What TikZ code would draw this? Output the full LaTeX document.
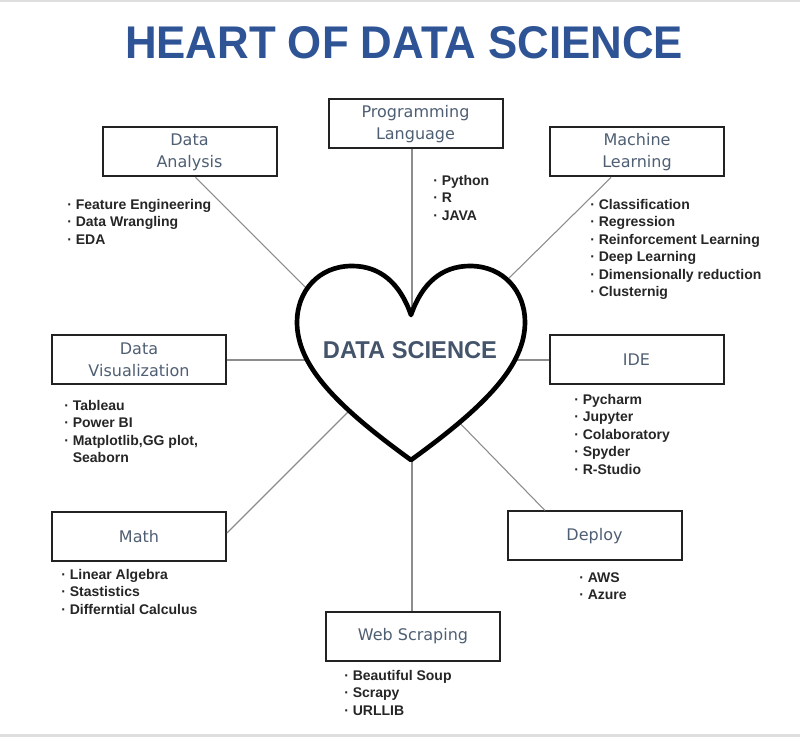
\documentclass[tikz,border=0pt]{standalone}
\usepackage{fontspec}
\usepackage{graphicx}
\setmainfont{Liberation Sans}
\newfontfamily\labfont{DejaVu Sans}
\usetikzlibrary{calc}
\definecolor{titleblue}{HTML}{2F5496}
\definecolor{labcol}{HTML}{4F5F73}
\definecolor{dscol}{HTML}{44546A}
\definecolor{itemcol}{HTML}{262626}
\definecolor{boxline}{HTML}{222222}
\definecolor{conn}{HTML}{8C8C8C}
\definecolor{edgegray}{HTML}{DEDEDE}
\tikzset{
  topicbox/.style={draw=boxline, line width=1.5pt, fill=white, minimum width=130.5pt,
    minimum height=36.75pt, inner sep=0pt, align=center, text=labcol,
    font=\labfont\fontsize{12}{16.5}\selectfont},
  itemlist/.style={anchor=north west, inner sep=0pt, align=left, text=itemcol,
    font=\fontsize{10.5}{13.1}\selectfont\bfseries},
  connector/.style={draw=conn, line width=0.8pt},
  heartline/.style={draw=black, line width=3.5pt, fill=white, line join=round}
}
\begin{document}
\begin{tikzpicture}[x=0.75pt,y=-0.75pt]
\useasboundingbox (0,0) rectangle (800,737);
\fill[white] (0,0) rectangle (800,737);
\fill[edgegray] (0,0) rectangle (800,2.5);
\fill[edgegray] (0,734) rectangle (800,737);

% title
\node[inner sep=0pt, text=titleblue] (title) at (404,43)
  {\resizebox{418.5pt}{24pt}{\bfseries HEART OF DATA SCIENCE}};

% topic boxes
\node[topicbox] (da)   at (189.5,152)   {Data\\Analysis};
\node[topicbox] (pl)   at (415.5,124)   {Programming\\Language};
\node[topicbox] (ml)   at (637,152)     {Machine\\Learning};
\node[topicbox] (dv)   at (139,360)     {Data\\Visualization};
\node[topicbox] (ide)  at (636.5,360)   {IDE};
\node[topicbox] (math) at (139,536.5)   {Math};
\node[topicbox] (dep)  at (594.5,536)   {Deploy};
\node[topicbox] (ws)   at (413,636.5)   {Web Scraping};

% item lists
\node[itemlist] (daL) at (67,199) {· Feature Engineering\\· Data Wrangling\\· EDA};
\node[itemlist] (plL) at (433,175) {· Python\\· R\\· JAVA};
\node[itemlist] (mlL) at (590,199) {· Classification\\· Regression\\· Reinforcement Learning\\· Deep Learning\\· Dimensionally reduction\\· Clusternig};
\node[itemlist] (dvL) at (64,400) {· Tableau\\· Power BI\\· Matplotlib,GG plot,\\\phantom{· }Seaborn};
\node[itemlist] (ideL) at (574,394) {· Pycharm\\· Jupyter\\· Colaboratory\\· Spyder\\· R-Studio};
\node[itemlist] (mathL) at (61,569) {· Linear Algebra\\· Stastistics\\· Differntial Calculus};
\node[itemlist] (depL) at (579,572) {· AWS\\· Azure};
\node[itemlist] (wsL) at (344,670) {· Beautiful Soup\\· Scrapy\\· URLLIB};

% connector ends inside the heart
\coordinate (hDA)   at (320,302);
\coordinate (hPL)   at (412,330);
\coordinate (hML)   at (500,287);
\coordinate (hDV)   at (320,360);
\coordinate (hIDE)  at (500,360);
\coordinate (hMath) at (360,400);
\coordinate (hDep)  at (450,413);
\coordinate (hWS)   at (412,440);

\draw[connector] ($(da.south)+(6,0)$) -- (hDA);
\draw[connector] ($(pl.south)+(-3.5,0)$) -- (hPL);
\draw[connector] ($(ml.south)+(-26,0)$) -- (hML);
\draw[connector] (dv.east) -- (hDV);
\draw[connector] (ide.west) -- (hIDE);
\draw[connector] ($(math.east)+(0,-3.5)$) -- (hMath);
\draw[connector] ($(dep.north)+(-49.5,0)$) -- (hDep);
\draw[connector] ($(ws.north)+(-1,0)$) -- (hWS);

% heart
\path[heartline] (411,315)
  .. controls (400,283) and (380,266) .. (352,266)
  .. controls (318,266) and (297,292) .. (297,322)
  .. controls (297,365) and (335,405) .. (411,460)
  .. controls (487,405) and (525,365) .. (525,322)
  .. controls (525,292) and (504,266) .. (470,266)
  .. controls (442,266) and (422,283) .. (411,315) -- cycle;

\node[inner sep=0pt, text=dscol] (ds) at (410,350)
  {\resizebox{130.5pt}{12.75pt}{\bfseries DATA SCIENCE}};
\end{tikzpicture}
\end{document}
